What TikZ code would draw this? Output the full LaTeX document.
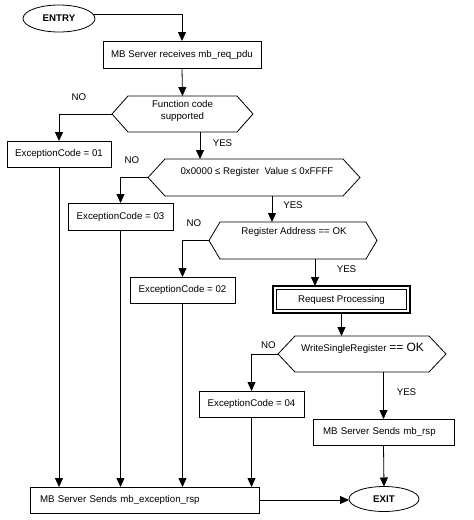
\documentclass[tikz,border=0pt]{standalone}
\usepackage{fontspec}
\setmainfont{Liberation Sans}
\usetikzlibrary{arrows.meta,shapes.geometric}
\newcommand\hexdraw[2]{\draw[line] (#1.west) -- ([xshift=#2pt]#1.north west) -- ([xshift=-#2pt]#1.north east) -- (#1.east) -- ([xshift=-#2pt]#1.south east) -- ([xshift=#2pt]#1.south west) -- cycle;}
\begin{document}
\begin{tikzpicture}[x=1pt,y=-1pt,
  every node/.style={font=\fontsize{9.7}{12}\selectfont, inner sep=0pt, outer sep=0pt},
  line/.style={line width=0.8pt, line join=miter},
  box/.style={draw, line width=0.8pt},
  ell/.style={draw, ellipse, line width=0.8pt},
  lbox/.style={box, inner xsep=10pt, align=left},
  arr/.style={line width=0.8pt, -{Triangle[length=9pt,width=8pt]}},
  lab/.style={}]
\useasboundingbox (0,0) rectangle (474,520);

% terminals
\node[ell, minimum width=72pt, minimum height=27pt] (entry) at (59,18.5) {\bfseries ENTRY};
\node[ell, minimum width=70pt, minimum height=25pt] (exit) at (384,499) {\bfseries EXIT};

% boxes
\node[box, minimum width=158pt, minimum height=27pt] (recv) at (182,54.5) {MB Server receives mb\_req\_pdu};
\node[box, minimum width=104pt, minimum height=26pt] (e1) at (59,154) {ExceptionCode = 01};
\node[box, minimum width=105pt, minimum height=27pt] (e3) at (120.5,216.5) {ExceptionCode = 03};
\node[box, minimum width=105pt, minimum height=26pt] (e2) at (182.5,290) {ExceptionCode = 02};
\node[box, minimum width=105pt, minimum height=26pt] (e4) at (251.5,404) {ExceptionCode = 04};
\node[draw, line width=2pt, minimum width=137pt, minimum height=27pt] (rp) at (341.5,299.5) {Request Processing};
\draw[line width=0.7pt] ([xshift=3.5pt,yshift=-3.5pt]rp.north west) rectangle ([xshift=-3.5pt,yshift=3.5pt]rp.south east);
\node[lbox, minimum height=26pt, text width=121pt] (rsp) at (383.5,432) {MB Server Sends mb\_rsp};
\node[lbox, minimum height=26pt, text width=209pt] (xrsp) at (144.5,500) {MB Server Sends mb\_exception\_rsp};

% decisions
\node[minimum width=141pt, minimum height=36pt] (h1) at (182.5,114) {};
\hexdraw{h1}{16}
\node[align=center] (t1) at (182.5,111) {Function code\\supported};

\node[minimum width=212pt, minimum height=37pt] (h2) at (254,177.5) {};
\hexdraw{h2}{17}
\node (t2) at (257,172) {0x0000 ≤ Register\ \ Value ≤ 0xFFFF};

\node[minimum width=168pt, minimum height=37pt] (h3) at (293,240.5) {};
\hexdraw{h3}{11}
\node (t3) at (294,232) {Register Address == OK};

\node[minimum width=168pt, minimum height=36pt] (h4) at (362,354) {};
\hexdraw{h4}{17}
\node (t4) at (362.5,348) {WriteSingleRegister {\fontsize{12}{14}\selectfont == OK}};

% connectors
\draw[arr] (entry.7) -| (recv.north);
\draw[arr] (recv.south) -- (h1.north);
\draw[arr] (h1.west) -| (e1.north);
\coordinate (y1) at ([xshift=17.5pt]h1.south);
\draw[arr] (y1) -- (y1 |- h2.north);
\draw[arr] (h2.west) -| (e3.north);
\coordinate (y2) at ([xshift=-21pt]h3.north);
\draw[arr] (y2 |- h2.south) -- (y2);
\draw[arr] (h3.west) -| (e2.north);
\coordinate (y3) at ([xshift=-26.5pt]rp.north);
\draw[arr] (y3 |- h3.south) -- (y3);
\draw[arr] (rp.south) -- (rp.south |- h4.north);
\draw[arr] (h4.west) -| (e4.north);
\draw[arr] (rsp.north |- h4.south) -- (rsp.north);
\draw[arr] (rsp.south) -- (exit.north);
\foreach \e in {e1,e3,e2,e4} {\draw[arr] (\e.south) -- (\e.south |- xrsp.north);}
\draw[arr] (xrsp.east) -- (xrsp.east -| exit.west);

% labels
\node[lab] (no1) at (79,97) {NO};
\node[lab] (yes1) at (222.5,143) {YES};
\node[lab] (no2) at (132,160) {NO};
\node[lab] (yes2) at (293,205) {YES};
\node[lab] (no3) at (194,223) {NO};
\node[lab] (yes3) at (346.5,269) {YES};
\node[lab] (no4) at (268.5,345) {NO};
\node[lab] (yes4) at (406.5,392) {YES};
\end{tikzpicture}
\end{document}
